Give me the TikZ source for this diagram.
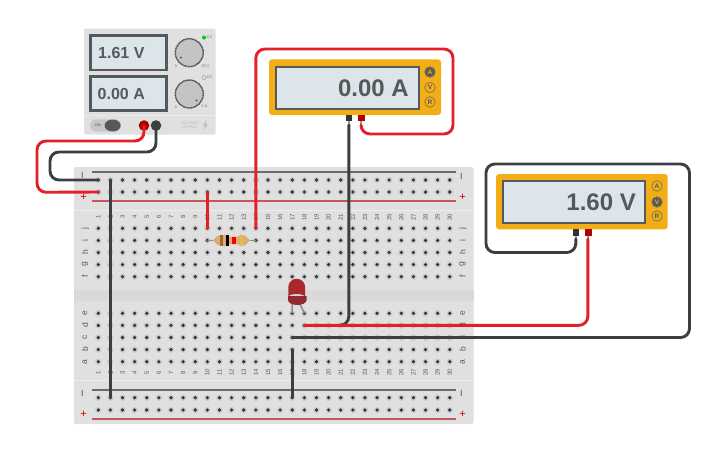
\documentclass[tikz,border=0pt]{standalone}
\usepackage{fontspec}
\setmainfont{Liberation Sans}
\definecolor{rojo}{HTML}{E32028}
\definecolor{negro}{HTML}{3B3F42}
\definecolor{placa}{HTML}{E0E0E0}
\definecolor{lcd}{HTML}{DCE5EA}
\definecolor{borde}{HTML}{54595B}
\definecolor{ambar}{HTML}{F2AE17}
\definecolor{riel}{HTML}{C2585C}
\definecolor{cuerpo}{HTML}{D9AE70}
\definecolor{domo}{HTML}{A9282D}
\definecolor{base}{HTML}{8F2A2E}
\tikzset{
  cable/.style={line width=2.9pt, rounded corners=9pt, line cap=round},
  rojocable/.style={cable, draw=rojo},
  negrocable/.style={cable, draw=negro},
  pantalla/.style={draw=borde, line width=2.4pt, fill=lcd},
  lectura/.style={font=\fontsize{24}{24}\selectfont\bfseries, text=borde, anchor=east, inner sep=0pt},
  lecturachica/.style={font=\fontsize{16}{16}\selectfont\bfseries, text=borde, anchor=west, inner sep=0pt},
  etiqueta/.style={font=\fontsize{6}{6}\selectfont, text=black!65, rotate=90, inner sep=0pt},
  signo/.style={font=\fontsize{11}{11}\selectfont, inner sep=0pt},
  menos/.style={signo, text=negro, rotate=90},
  mas/.style={signo, text=red!80!black},
  mini/.style={font=\fontsize{3.8}{4}\selectfont, text=black!55, inner sep=0pt},
  boton/.style={circle, minimum size=10.5pt, inner sep=0pt, draw=borde!70!ambar, line width=.7pt, text=borde, font=\fontsize{6.5}{6.5}\selectfont\bfseries},
  botonon/.style={boton, fill=borde, text=ambar},
  perilla/.style={draw=black!70, fill=black!23, line width=1.4pt, dash pattern=on 1pt off .5pt},
}
\begin{document}
\begin{tikzpicture}[x=1pt, y=-1pt]
    \useasboundingbox (0,0) rectangle (725,453);
    \fill[white] (0,0) rectangle (725,453);

    % Placa
    \fill[placa, rounded corners=2pt] (74,167) rectangle (473.5,424);
    \fill[black!15] (74,290) rectangle (473.5,301);
    \draw[black!7, line width=.8pt] (74,210) -- (473.5,210);
    \draw[black!7, line width=.8pt] (74,380) -- (473.5,380);

    % Rieles
    \draw[black!58, line width=2pt] (92,171.7) -- (456,171.7);
    \draw[riel, line width=2pt] (92,200.7) -- (456,200.7);
    \draw[black!58, line width=2pt] (92,389.7) -- (456,389.7);
    \draw[riel, line width=2pt] (92,418.7) -- (456,418.7);
    \node[menos] (menosA) at (83.5,175) {--};
    \node[mas] (masA) at (83.5,197.5) {+};
    \node[menos] (menosB) at (83.5,393) {--};
    \node[mas] (masB) at (83.5,414.5) {+};
    \node[menos] (menosC) at (462.5,176) {--};
    \node[mas] (masC) at (462.5,197.5) {+};
    \node[menos] (menosD) at (462.5,393) {--};
    \node[mas] (masD) at (462.5,414.5) {+};

    % Agujeros
    \foreach \c in {1,...,30} {
        \pgfmathsetmacro{\px}{98.3+(\c-1)*12.12}
        \foreach \r/\py in {n/180,p/192,j/228.3,i/240.4,h/252.5,g/264.6,f/276.7,e/313.3,d/325.4,c/337.5,b/349.6,a/361.7,u/397.7,v/410} {
            \coordinate (\r\c) at (\px,\py);
            \fill[black!20] (\r\c) circle (3.2pt);
            \fill[black!80] (\r\c) circle (1.8pt);
        }
        \node[etiqueta] (arriba\c) at (\px,217) {\c};
        \node[etiqueta] (abajo\c) at (\px,372.5) {\c};
    }
    \foreach \r/\py in {j/228.3,i/240.4,h/252.5,g/264.6,f/276.7,e/313.3,d/325.4,c/337.5,b/349.6,a/361.7} {
        \node[etiqueta, font=\fontsize{8.5}{8.5}\selectfont] (izq\r) at (85,\py) {\r};
        \node[etiqueta, font=\fontsize{8.5}{8.5}\selectfont] (der\r) at (462.5,\py) {\r};
    }

    % Resistencia
    \draw[black!45, line width=1.4pt] (i10) -- (i14);
    \fill[cuerpo] (213,240.4) -- (218,235.5) -- (226,234.5) -- (229,236.5) -- (238,236.5) -- (241,234.5) -- (245,235.5) -- (250,240.4)
        -- (245,245.3) -- (241,246.3) -- (238,244.3) -- (229,244.3) -- (226,246.3) -- (218,245.3) -- cycle;
    \fill[brown!85!black] (220,234.8) rectangle (223.3,246);
    \fill[black] (226,235) rectangle (229,245.8);
    \fill[red] (232.3,236.5) rectangle (235.8,244.3);
    \fill[yellow!65!brown] (241,234.8) rectangle (242.3,246);

    % LED
    \draw[black!45, line width=1.5pt] (e17) -- (292.2,304);
    \draw[black!45, line width=1.5pt] (e18) -- (300,304);
    \fill[base] (288,300) arc[start angle=180, end angle=360, x radius=9.3pt, y radius=5pt] -- (306.6,296) -- (288,296) -- cycle;
    \fill[domo] (288.3,297) -- (288.3,287) arc[start angle=180, end angle=0, x radius=8.4pt, y radius=8.2pt] -- (305,297) arc[start angle=0, end angle=180, x radius=8.4pt, y radius=3pt] -- cycle;

    % Fuente
    \fill[black!12, rounded corners=2pt] (84,28.5) rectangle (215.7,134.5);
    \draw[black!8, line width=.7pt] (84,115.7) -- (215.7,115.7);
    \draw[pantalla] (90.5,35.5) rectangle (166.5,70);
    \draw[pantalla] (90.5,76.5) rectangle (166.5,110.5);
    \node[lecturachica] (voltios) at (98,53) {1.61 V};
    \node[lecturachica] (amperios) at (97.5,93.5) {0.00 A};
    \draw[perilla] (189.3,52.7) circle (14pt);
    \draw[perilla] (189.3,94) circle (14pt);
    \fill[borde] (181,57.5) circle (1.2pt);
    \fill[borde] (196.5,100.5) circle (1.2pt);
    \fill[green!80!black] (204,37.5) circle (2pt);
    \draw[black!40, line width=.5pt] (204,77.5) circle (2pt);
    \node[mini] (cv) at (209.5,37.5) {CV};
    \node[mini] (cc) at (209.5,77.5) {CC};
    \node[mini] (ceroV) at (176,66) {0};
    \node[mini] (maxV) at (205.5,66) {30 V};
    \node[mini] (ceroA) at (176,106.7) {0};
    \node[mini] (maxA) at (204.5,106.7) {5 A};
    \fill[black!22, rounded corners=6pt] (90,119.3) rectangle (121,131.5);
    \node[mini, text=black!70] (on) at (98,125.5) {ON};
    \fill[borde] (112.6,125.5) ellipse (8pt and 6pt);
    \node[mini, text=black!28, align=center] (marca) at (189.5,125) {VOLTAGE\\SUPPLY};
    \fill[black!25] (206.5,119.5) -- (203,126) -- (205.3,126) -- (203.5,131) -- (208,124.5) -- (205.7,124.5) -- cycle;
    \coordinate (fuenteR) at (144,125.5);
    \coordinate (fuenteN) at (156,125.5);
    \fill[red!70!black] (fuenteR) circle (5.3pt);
    \fill[negro] (fuenteN) circle (5.3pt);

    % Amperimetro
    \fill[ambar, rounded corners=3pt] (269,59.3) rectangle (441,115);
    \draw[pantalla, line width=2pt] (275.5,66.5) rectangle (418.5,108.5);
    \node[lectura] (corriente) at (409,88) {0.00 A};
    \node[botonon] (ampA) at (430,72) {A};
    \node[boton] (ampV) at (430,87.5) {V};
    \node[boton] (ampR) at (430,102) {R};
    \fill[black!80] (345.5,115) rectangle (352,121);
    \fill[red!70!black] (357.5,115) rectangle (364.5,121);
    \fill[black!40] (347.5,121) rectangle (350,125);
    \fill[black!40] (359.5,121) rectangle (362,125);
    \coordinate (ampN) at (348.8,125);
    \coordinate (ampP) at (361,125);

    % Voltimetro
    \fill[ambar, rounded corners=3pt] (496,174) rectangle (667.7,229.3);
    \draw[pantalla, line width=2pt] (503,181) rectangle (645,223);
    \node[lectura] (tension) at (636,202.5) {1.60 V};
    \node[boton] (volA) at (657,186) {A};
    \node[botonon] (volV) at (657,202) {V};
    \node[boton] (volR) at (657,216) {R};
    \fill[black!80] (572.5,229.3) rectangle (579,235.5);
    \fill[red!70!black] (584.5,229.3) rectangle (591.5,235.5);
    \fill[black!40] (574.5,235.5) rectangle (577,239);
    \fill[black!40] (586.5,235.5) rectangle (589,239);
    \coordinate (volN) at (575.8,239);
    \coordinate (volP) at (587.8,239);

    % Cables de la fuente
    \draw[rojocable] (fuenteR) -- (144,141) -- (37,141) -- (37,192.3) -- (p1);
    \draw[negrocable] (fuenteN) -- (156,152) -- (50,152) -- (50,180) -- (n1);

    % Puentes
    \draw[negrocable] (n2) -- (u2);
    \draw[rojocable] (p10) -- (j10);
    \draw[rojocable] (j14) -- (255.9,49) -- (453,49) -- (453,134) -- (361,134) -- (ampP);
    \draw[negrocable] (b17) -- (u17);

    % Amperimetro a la placa
    \draw[negrocable] (ampN) -- (348.8,325.4) -- (d21);

    % Voltimetro a la placa
    \draw[rojocable] (d18) -- (587.8,325.4) -- (volP);
    \draw[negrocable] (volN) -- (575.8,252.5) -- (486,252.5) -- (486,164) -- (689.5,164) -- (689.5,337.5) -- (c17);
\end{tikzpicture}
\end{document}
